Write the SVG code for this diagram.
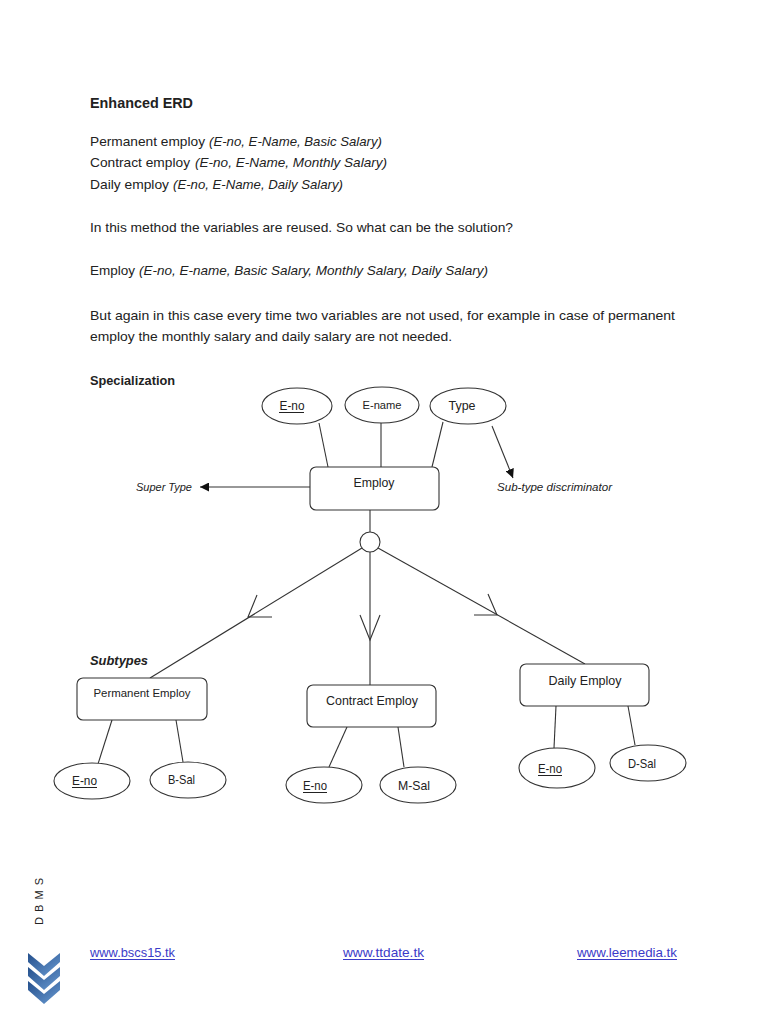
<svg xmlns="http://www.w3.org/2000/svg" width="768" height="1024" viewBox="0 0 768 1024">
<defs>
<style>
.t{font-family:"Liberation Sans",Arial,sans-serif;font-size:13px;fill:#222}
.i{font-style:italic}
.b{font-weight:bold}
.s{font-size:11px}
.ln{stroke:#333;stroke-width:1.1;fill:none}
.shape{fill:#fff;stroke:#333;stroke-width:1.1}
.link{font-family:"Liberation Sans",Arial,sans-serif;font-size:13px;fill:#3b3bc8}
.ul{stroke:#3b3bc8;stroke-width:1}
</style>
<marker id="ah" viewBox="0 0 10 10" refX="10" refY="5" markerWidth="9" markerHeight="9" markerUnits="userSpaceOnUse" orient="auto">
<path d="M0,0 L10,5 L0,10 z" fill="#111"/>
</marker>
<linearGradient id="chev" x1="0" y1="0" x2="1" y2="1">
<stop offset="0" stop-color="#244f8c"/>
<stop offset="1" stop-color="#6a9bd2"/>
</linearGradient>
</defs>
<rect width="768" height="1024" fill="#fff"/>

<g id="header-text">
<text class="t b" x="90" y="108" font-size="14" textLength="103" lengthAdjust="spacingAndGlyphs" style="font-size:14px">Enhanced ERD</text>
<text class="t" x="90" y="146" textLength="115" lengthAdjust="spacingAndGlyphs">Permanent employ</text>
<text class="t i" x="209" y="146" textLength="173" lengthAdjust="spacingAndGlyphs">(E-no, E-Name, Basic Salary)</text>
<text class="t" x="90" y="167" textLength="100" lengthAdjust="spacingAndGlyphs">Contract employ</text>
<text class="t i" x="195" y="167" textLength="192" lengthAdjust="spacingAndGlyphs">(E-no, E-Name, Monthly Salary)</text>
<text class="t" x="90" y="189" textLength="79" lengthAdjust="spacingAndGlyphs">Daily employ</text>
<text class="t i" x="173" y="189" textLength="170" lengthAdjust="spacingAndGlyphs">(E-no, E-Name, Daily Salary)</text>
<text class="t" x="90" y="232" textLength="423" lengthAdjust="spacingAndGlyphs">In this method the variables are reused. So what can be the solution?</text>
<text class="t" x="90" y="275" textLength="45" lengthAdjust="spacingAndGlyphs">Employ</text>
<text class="t i" x="139" y="275" textLength="349" lengthAdjust="spacingAndGlyphs">(E-no, E-name, Basic Salary, Monthly Salary, Daily Salary)</text>
<text class="t" x="90" y="320" textLength="585" lengthAdjust="spacingAndGlyphs">But again in this case every time two variables are not used, for example in case of permanent</text>
<text class="t" x="90" y="341" textLength="362" lengthAdjust="spacingAndGlyphs">employ the monthly salary and daily salary are not needed.</text>
<text class="t b" x="90" y="385" style="font-size:12px" textLength="85" lengthAdjust="spacingAndGlyphs">Specialization</text>
<text class="t b i" x="90" y="665" style="font-size:12px" textLength="58" lengthAdjust="spacingAndGlyphs">Subtypes</text>
<text class="t i s" x="136" y="491" textLength="56" lengthAdjust="spacingAndGlyphs">Super Type</text>
<text class="t i s" x="497" y="491" textLength="115" lengthAdjust="spacingAndGlyphs">Sub-type discriminator</text>
</g>

<g id="connectors">
<line class="ln" x1="319" y1="423" x2="328" y2="467"/>
<line class="ln" x1="381" y1="423" x2="381" y2="467"/>
<line class="ln" x1="443" y1="422" x2="432" y2="467"/>
<line class="ln" x1="492" y1="426" x2="513" y2="478" marker-end="url(#ah)"/>
<line class="ln" x1="310" y1="487" x2="200" y2="487" marker-end="url(#ah)"/>
<line class="ln" x1="370" y1="510" x2="370" y2="532"/>
<line class="ln" x1="362" y1="548" x2="150" y2="678"/>
<line class="ln" x1="370" y1="552" x2="370" y2="685"/>
<line class="ln" x1="378" y1="548" x2="585" y2="664"/>
<polyline class="ln" points="257,595 248,617 272,617"/>
<polyline class="ln" points="360,615 370,640 380,615"/>
<polyline class="ln" points="488,594 497,615 474,615"/>
<line class="ln" x1="112" y1="720" x2="98" y2="764"/>
<line class="ln" x1="176" y1="720" x2="183" y2="762"/>
<line class="ln" x1="347" y1="727" x2="329" y2="767"/>
<line class="ln" x1="398" y1="727" x2="404" y2="767"/>
<line class="ln" x1="556" y1="706" x2="554" y2="748"/>
<line class="ln" x1="628" y1="706" x2="635" y2="745"/>
</g>

<g id="attr-eno-top">
<ellipse class="shape" cx="297" cy="406" rx="35" ry="18"/>
<text class="t" x="292" y="410" text-anchor="middle" textLength="25" lengthAdjust="spacingAndGlyphs">E-no</text>
<line class="ul" x1="279" y1="412.5" x2="304" y2="412.5" style="stroke:#222"/>
</g>
<g id="attr-ename-top">
<ellipse class="shape" cx="382" cy="405" rx="37" ry="18"/>
<text class="t s" x="382" y="409" text-anchor="middle" textLength="39" lengthAdjust="spacingAndGlyphs">E-name</text>
</g>
<g id="attr-type-top">
<ellipse class="shape" cx="468" cy="406" rx="38" ry="18"/>
<text class="t" x="462" y="410" text-anchor="middle" textLength="27" lengthAdjust="spacingAndGlyphs">Type</text>
</g>
<g id="employ">
<rect class="shape" x="310" y="467" width="129" height="43" rx="6"/>
<text class="t" x="374" y="487" text-anchor="middle" textLength="41" lengthAdjust="spacingAndGlyphs">Employ</text>
</g>
<g id="isa-circle">
<circle class="shape" cx="370" cy="542" r="10"/>
</g>
<g id="permanent-employ">
<rect class="shape" x="77" y="678" width="130" height="42" rx="6"/>
<text class="t s" x="142" y="697" text-anchor="middle" textLength="97" lengthAdjust="spacingAndGlyphs">Permanent Employ</text>
</g>
<g id="contract-employ">
<rect class="shape" x="307" y="685" width="129" height="42" rx="6"/>
<text class="t" x="372" y="705" text-anchor="middle" textLength="92" lengthAdjust="spacingAndGlyphs">Contract Employ</text>
</g>
<g id="daily-employ">
<rect class="shape" x="520" y="664" width="129" height="42" rx="6"/>
<text class="t" x="585" y="685" text-anchor="middle" textLength="73" lengthAdjust="spacingAndGlyphs">Daily Employ</text>
</g>
<g id="perm-eno">
<ellipse class="shape" cx="92" cy="781" rx="38" ry="18"/>
<text class="t" x="84.5" y="785" text-anchor="middle" textLength="25" lengthAdjust="spacingAndGlyphs">E-no</text>
<line class="ul" x1="72" y1="787.5" x2="97" y2="787.5" style="stroke:#222"/>
</g>
<g id="perm-bsal">
<ellipse class="shape" cx="188" cy="780" rx="38" ry="18"/>
<text class="t" x="181.5" y="784" text-anchor="middle" textLength="27" lengthAdjust="spacingAndGlyphs">B-Sal</text>
</g>
<g id="contract-eno">
<ellipse class="shape" cx="324" cy="785" rx="38" ry="18"/>
<text class="t" x="315" y="790" text-anchor="middle" textLength="24" lengthAdjust="spacingAndGlyphs">E-no</text>
<line class="ul" x1="303" y1="792.5" x2="327" y2="792.5" style="stroke:#222"/>
</g>
<g id="contract-msal">
<ellipse class="shape" cx="418" cy="785" rx="38" ry="18"/>
<text class="t" x="414" y="790" text-anchor="middle" textLength="32" lengthAdjust="spacingAndGlyphs">M-Sal</text>
</g>
<g id="daily-eno">
<ellipse class="shape" cx="557" cy="768" rx="38" ry="20"/>
<text class="t" x="550" y="773" text-anchor="middle" textLength="24" lengthAdjust="spacingAndGlyphs">E-no</text>
<line class="ul" x1="538" y1="775.5" x2="562" y2="775.5" style="stroke:#222"/>
</g>
<g id="daily-dsal">
<ellipse class="shape" cx="648" cy="763" rx="38" ry="18"/>
<text class="t" x="642" y="768" text-anchor="middle" textLength="28" lengthAdjust="spacingAndGlyphs">D-Sal</text>
</g>

<g id="footer">
<text class="t s" transform="translate(43,925) rotate(-90)" x="0" y="0" textLength="47" lengthAdjust="spacing">D B M S</text>
<text class="link" x="90" y="957" textLength="85" lengthAdjust="spacingAndGlyphs">www.bscs15.tk</text>
<line class="ul" x1="90" y1="959.5" x2="175" y2="959.5"/>
<text class="link" x="343" y="957" textLength="81" lengthAdjust="spacingAndGlyphs">www.ttdate.tk</text>
<line class="ul" x1="343" y1="959.5" x2="424" y2="959.5"/>
<text class="link" x="577" y="957" textLength="100" lengthAdjust="spacingAndGlyphs">www.leemedia.tk</text>
<line class="ul" x1="577" y1="959.5" x2="677" y2="959.5"/>
<g id="logo" fill="url(#chev)">
<polygon points="28,953 44,966 60,953 60,962 44,976 28,962"/>
<polygon points="28,967 44,980 60,967 60,976 44,990 28,976"/>
<polygon points="28,981 44,994 60,981 60,990 44,1004 28,990"/>
</g>
</g>
</svg>
